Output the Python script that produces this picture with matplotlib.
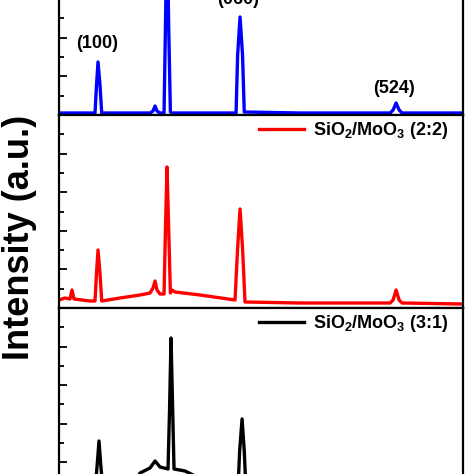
import matplotlib
matplotlib.use("Agg")
import matplotlib.pyplot as plt
from matplotlib.ticker import MultipleLocator

plt.rcParams['font.family'] = ['Liberation Sans', 'DejaVu Sans']
plt.rcParams['mathtext.fontset'] = 'custom'
plt.rcParams['mathtext.rm'] = 'Liberation Sans:bold'
plt.rcParams['mathtext.bf'] = 'Liberation Sans:bold'

# 2theta (deg) and intensity (a.u.) vertices
blue_x = [10, 16.24, 16.5, 16.76, 17.1, 17.4, 25.77, 26.29, 26.64, 26.98, 27.5, 28.2, 28.45, 28.72, 29.0, 29.3, 29.58,
          40.68, 40.95, 41.37, 41.8, 42.1, 51.77, 67.37, 67.89, 68.41, 68.93, 69.45, 80]
blue_y = [2, 2, 30, 53, 30, 2, 2, 4, 9, 4, 2, 2, 90, 200, 90, 3, 2,
          2, 60, 98, 60, 3, 2, 2, 5, 12, 5, 2, 2]
red_x = [10, 11.04, 11.9, 12.25, 12.6, 15.37, 16.24, 16.5, 16.76, 17.1, 17.4, 20.57, 24.04, 25.77, 26.29, 26.64, 26.98,
         27.5, 28.2, 28.45, 28.72, 29.0, 29.3, 29.58, 30.1, 34.44, 40.5, 40.95, 41.37, 41.8, 42.23, 51.77, 60.43,
         67.37, 67.89, 68.41, 68.93, 69.45, 80]
red_y = [8, 10, 9, 18, 9, 7, 7, 35, 58, 35, 7, 10, 13, 15, 20, 27, 18,
         14, 14, 80, 141, 80, 15, 18, 16, 13, 8, 60, 99, 60, 6, 5, 5,
         5, 8, 18, 8, 5, 4]
black_x = [10, 16.24, 16.6, 16.93, 17.25, 17.63, 22.3, 24.04, 25.77, 26.64, 27.5, 28.89, 29.15, 29.41, 29.7, 29.93,
           31.84, 33.57, 36.17, 41.02, 41.3, 41.72, 42.1, 42.4, 80]
black_y = [10, 10, 35, 60, 35, 10, 12, 28, 33, 40, 34, 32, 90, 163, 90, 32,
           30, 25, 14, 12, 50, 82, 50, 10, 8]

fig = plt.figure(figsize=(4.74, 4.74), dpi=100)
L, W, H = 59/474, 404/474, 193/474
bottoms = [(474-115)/474, (474-308)/474, (474-501)/474]
series = [(blue_x, blue_y, 'blue', None),
          (red_x, red_y, 'red', r'SiO$_2$/MoO$_3$ (2:2)'),
          (black_x, black_y, 'black', r'SiO$_2$/MoO$_3$ (3:1)')]
axes = []
for b, (x, y, c, lab) in zip(bottoms, series):
    ax = fig.add_axes([L, b, W, H])
    ax.plot(x, y, color=c, lw=2.4, label=lab)
    ax.set_xlim(10, 80)
    ax.set_ylim(0, 193)
    ax.yaxis.set_major_locator(MultipleLocator(38.6))
    ax.yaxis.set_minor_locator(MultipleLocator(19.3))
    ax.tick_params(axis='y', which='major', direction='in', length=6, width=1.3, labelleft=False)
    ax.tick_params(axis='y', which='minor', direction='in', length=3.5, width=1.3)
    ax.tick_params(axis='x', which='both', bottom=False, labelbottom=False)
    for s in ax.spines.values():
        s.set_linewidth(1.6)
    if lab:
        ax.legend(loc='upper right', frameon=False, handlelength=2.5, handletextpad=0.5,
                  prop={'weight': 'bold', 'size': 13}, borderaxespad=0.2, bbox_to_anchor=(0.99, 1.03))
    axes.append(ax)

ann = [('(100)', 16.6, 63), ('(060)', 41.0, 107), ('(524)', 68.1, 18)]
for t, xv, yv in ann:
    axes[0].text(xv, yv, t, ha='center', va='bottom', fontsize=13, fontweight='bold')

fig.text(0.042, 0.50, 'Intensity (a.u.)', rotation=90, ha='center', va='center', fontsize=26, fontweight='bold')
fig.savefig('out.png', dpi=100)
